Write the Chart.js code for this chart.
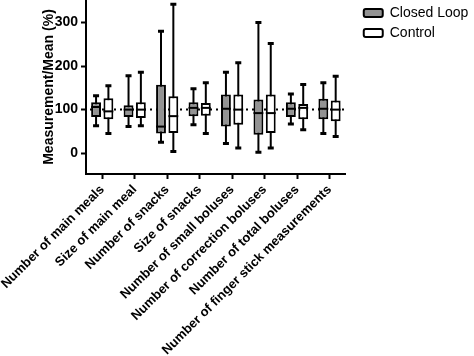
<!DOCTYPE html>
<html>
<head>
<meta charset="utf-8">
<script src="https://cdn.jsdelivr.net/npm/chart.js@4.4.1/dist/chart.umd.min.js"></script>
<style>
  html, body { margin: 0; padding: 0; background: #fff; }
  #wrap { width: 474px; height: 356px; position: relative; }
</style>
</head>
<body>
<div id="wrap"><canvas id="boxChart"></canvas></div>
<script>
const categories = [
    'Number of main meals',
    'Size of main meal',
    'Number of snacks',
    'Size of snacks',
    'Number of small boluses',
    'Number of correction boluses',
    'Number of total boluses',
    'Number of finger stick measurements'
];

// Closed Loop: whisker min, lower quartile, median, upper quartile, whisker max
const closedMin = [63, 61, 25, 65, 22, 2, 67, 45];
const closedQ1 = [83, 83, 45, 85, 61, 42, 83, 78];
const closedMed = [106, 100, 61, 104, 102, 92, 102, 102];
const closedQ3 = [117, 110, 157, 117, 135, 123, 117, 125];
const closedMax = [132, 178, 280, 148, 186, 300, 136, 162];

// Control
const controlMin = [45, 63, 4, 45, 12, 12, 54, 38];
const controlQ1 = [78, 81, 46, 86, 65, 46, 78, 73];
const controlMed = [96, 100, 85, 104, 100, 92, 104, 100];
const controlQ3 = [126, 117, 131, 115, 135, 135, 113, 121];
const controlMax = [155, 186, 342, 162, 208, 252, 158, 177];

const yTicks = [0, 100, 200, 300];
const refLine = 100;

const FONT = "'Liberation Sans', Arial, Helvetica, sans-serif";
Chart.defaults.font.family = FONT;
Chart.defaults.color = '#000';

function boxes(q1, q3) {
    return q1.map(function (v, i) { return [v, q3[i]]; });
}

//# whiskers, medians and the dotted 100% line
const boxPlotPlugin = {
    id: 'boxPlot',
    beforeDatasetsDraw: function (chart) {
        const ctx = chart.ctx;
        const area = chart.chartArea;
        const y = chart.scales.y.getPixelForValue(refLine);
        ctx.save();
        ctx.strokeStyle = '#000';
        ctx.lineWidth = 2;
        ctx.setLineDash([2, 4]);
        ctx.beginPath();
        ctx.moveTo(area.left + 4, y);
        ctx.lineTo(area.right, y);
        ctx.stroke();
        ctx.restore();

        // whiskers go under the boxes
        chart.data.datasets.forEach(function (ds, di) {
            const meta = chart.getDatasetMeta(di);
            const ys = chart.scales.y;
            ctx.save();
            ctx.strokeStyle = '#000';
            meta.data.forEach(function (bar, i) {
                const yMin = ys.getPixelForValue(ds.stats.min[i]);
                const yMax = ys.getPixelForValue(ds.stats.max[i]);
                ctx.lineWidth = 2;
                ctx.beginPath();
                ctx.moveTo(bar.x, yMax);
                ctx.lineTo(bar.x, yMin);
                ctx.stroke();
                ctx.lineWidth = 3;
                ctx.beginPath();
                ctx.moveTo(bar.x - 3, yMax);
                ctx.lineTo(bar.x + 3, yMax);
                ctx.moveTo(bar.x - 3, yMin);
                ctx.lineTo(bar.x + 3, yMin);
                ctx.stroke();
            });
            ctx.restore();
        });
    },
    afterDatasetsDraw: function (chart) {
        const ctx = chart.ctx;
        chart.data.datasets.forEach(function (ds, di) {
            const meta = chart.getDatasetMeta(di);
            const ys = chart.scales.y;
            ctx.save();
            ctx.strokeStyle = '#000';
            ctx.lineWidth = 2;
            meta.data.forEach(function (bar, i) {
                const yMed = ys.getPixelForValue(ds.stats.med[i]);
                ctx.beginPath();
                ctx.moveTo(bar.x - bar.width / 2, yMed);
                ctx.lineTo(bar.x + bar.width / 2, yMed);
                ctx.stroke();
            });
            ctx.restore();
        });
    }
};

const ctx = document.getElementById('boxChart').getContext('2d');
new Chart(ctx, {
    type: 'bar',
    data: {
        labels: categories,
        datasets: [{
            label: 'Closed Loop',
            data: boxes(closedQ1, closedQ3),
            stats: { min: closedMin, med: closedMed, max: closedMax },
            backgroundColor: '#939393',
            borderColor: '#000',
            borderWidth: 2,
            borderSkipped: false,
            categoryPercentage: 0.76,
            barPercentage: 0.8
        }, {
            label: 'Control',
            data: boxes(controlQ1, controlQ3),
            stats: { min: controlMin, med: controlMed, max: controlMax },
            backgroundColor: '#fff',
            borderColor: '#000',
            borderWidth: 2,
            borderSkipped: false,
            categoryPercentage: 0.76,
            barPercentage: 0.8
        }]
    },
    options: {
        responsive: true,
        maintainAspectRatio: false,
        animation: false,
        layout: { padding: { right: -3 } },
        plugins: {
            legend: {
                position: 'right',
                align: 'start',
                labels: {
                    boxWidth: 19,
                    boxHeight: 8,
                    padding: 6,
                    useBorderRadius: true,
                    borderRadius: 2,
                    font: { size: 14 }
                }
            },
            tooltip: { enabled: false }
        },
        scales: {
            x: {
                offset: true,
                grid: {
                    offset: false,
                    drawOnChartArea: false,
                    drawTicks: true,
                    tickLength: 5,
                    tickWidth: 2,
                    tickColor: '#000'
                },
                border: { color: '#000', width: 2 },
                ticks: {
                    autoSkip: false,
                    minRotation: 45,
                    maxRotation: 45,
                    padding: 3,
                    font: { size: 13, weight: 'bold' }
                },
                afterFit: function (scale) {
                    scale.height = 182;
                    scale.paddingLeft = 0;
                    scale.paddingRight = 0;
                }
            },
            y: {
                min: -48,
                max: 352,
                grid: {
                    drawOnChartArea: false,
                    drawTicks: true,
                    tickLength: 5,
                    tickWidth: 2,
                    tickColor: '#000'
                },
                border: { color: '#000', width: 2 },
                ticks: {
                    padding: 3,
                    font: { size: 14, weight: 'bold' }
                },
                afterBuildTicks: function (scale) {
                    scale.ticks = yTicks.map(function (v) { return { value: v }; });
                },
                title: {
                    display: true,
                    text: 'Measurement/Mean (%)',
                    font: { size: 14, weight: 'bold' },
                    padding: { top: 41, bottom: 0 }
                },
                afterFit: function (scale) {
                    scale.width = 86;
                    scale.paddingTop = 0;
                    scale.paddingBottom = 0;
                }
            },
            // hidden spacer between the plot and the legend
            gap: {
                type: 'linear',
                position: 'right',
                display: false,
                afterFit: function (scale) {
                    scale.width = 12;
                }
            }
        }
    },
    plugins: [boxPlotPlugin]
});
</script>
</body>
</html>
